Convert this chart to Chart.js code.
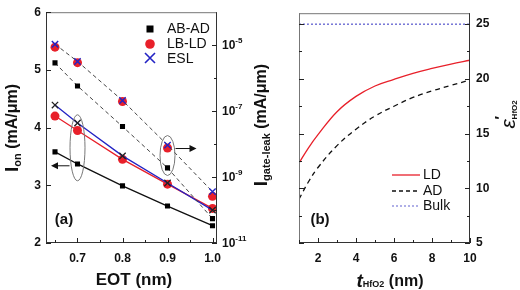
<!DOCTYPE html>
<html lang="en">
<head>
<meta charset="UTF-8">
<title>Ion / gate leakage vs EOT and HfO2 permittivity</title>
<script src="https://cdn.jsdelivr.net/npm/chart.js"></script>
<style>
  body { margin: 0; background: #fff; }
  #wrap { position: relative; width: 520px; height: 290px; overflow: hidden; }
  canvas { position: absolute; top: 0; }
  #chartA { left: 0; }
  #chartB { left: 262px; }
</style>
</head>
<body>
<div id="wrap">
  <canvas id="chartA" width="275" height="290"></canvas>
  <canvas id="chartB" width="258" height="290"></canvas>
</div>
<script>
// ---- panel (a): on-current (left axis) and gate leakage (right, log) vs EOT
const eot = [0.65, 0.7, 0.8, 0.9, 1.0];
const ionABAD = [3.58, 3.37, 2.99, 2.64, 2.30];
const ionLBLD = [4.20, 3.95, 3.45, 3.02, 2.60];
const ionESL  = [4.39, 4.08, 3.51, 3.04, 2.57];
const leakABAD = [2.9e-6, 5.8e-7, 3.4e-8, 1.9e-9, 5.5e-11];
const leakLBLD = [8.7e-6, 2.95e-6, 1.96e-7, 7.6e-9, 2.6e-10];
const leakESL  = [1.07e-5, 3.2e-6, 2.1e-7, 9.3e-9, 3.6e-10];

const eotMajor = [0.7, 0.8, 0.9, 1.0];
const eotMinor = [0.65, 0.75, 0.85, 0.95];
const ionTicks = [2, 3, 4, 5, 6];
const leakMajor = [1e-11, 1e-9, 1e-7, 1e-5];
const leakMinor = [1e-10, 1e-8, 1e-6];

// ---- panel (b): effective permittivity vs HfO2 thickness
const tHfO2 = [1, 1.5, 2, 3, 4, 5, 6, 7, 8, 9, 10];
const epsLD = [12.3, 13.7, 14.9, 17.0, 18.4, 19.35, 19.95, 20.5, 20.95, 21.35, 21.7];
const epsAD = [9.0, 10.6, 11.9, 13.9, 15.4, 16.6, 17.5, 18.3, 18.9, 19.4, 19.9];
const epsBulk = [25, 25, 25, 25, 25, 25, 25, 25, 25, 25, 25];

const tMajor = [2, 4, 6, 8, 10];
const tMinor = [1, 3, 5, 7, 9];
const epsMajor = [5, 10, 15, 20, 25];
const epsMinor = [7.5, 12.5, 17.5, 22.5];

const FF = "'Liberation Sans', Arial, sans-serif";
const RED = '#e8202a';
const BLUE = '#2323c4';

const pts = (xs, ys) => xs.map((x, i) => ({ x, y: ys[i] }));

// draw a row of text pieces (sub/superscripts) centred on x,y, optionally rotated
function drawRich(ctx, parts, x, y, rot) {
  ctx.save();
  ctx.translate(x, y);
  if (rot) ctx.rotate(rot);
  ctx.textBaseline = 'middle';
  ctx.textAlign = 'left';
  let w = 0;
  parts.forEach(p => { ctx.font = p.font; p.w = ctx.measureText(p.t).width; if (!p.stack) w += p.w; });
  let cx = -w / 2, last = 0;
  parts.forEach(p => {
    ctx.font = p.font;
    ctx.fillStyle = '#111';
    if (p.stack) { ctx.fillText(p.t, last, p.dy || 0); return; }
    ctx.fillText(p.t, cx, p.dy || 0);
    last = cx + p.w;
    cx += p.w;
  });
  ctx.restore();
}

function arrow(ctx, x1, y, x2) {
  const d = Math.sign(x2 - x1);
  ctx.beginPath();
  ctx.moveTo(x1, y); ctx.lineTo(x2 - d * 6, y);
  ctx.stroke();
  ctx.beginPath();
  ctx.moveTo(x2, y); ctx.lineTo(x2 - d * 7, y - 3.5); ctx.lineTo(x2 - d * 7, y + 3.5);
  ctx.closePath(); ctx.fill();
}

// frame + inward tick marks
const frameTicks = {
  id: 'frameTicks',
  afterDraw(chart, args, opts) {
    const { ctx, chartArea: a } = chart;
    ctx.save();
    ctx.lineWidth = 1;
    const side = (c, x1, y1, x2, y2) => {
      ctx.strokeStyle = c; ctx.beginPath(); ctx.moveTo(x1, y1); ctx.lineTo(x2, y2); ctx.stroke();
    };
    const f = opts.frame;
    side(f.top, a.left, a.top + 0.5, a.right, a.top + 0.5);
    side(f.left, a.left + 0.5, a.top, a.left + 0.5, a.bottom);
    side(f.right, a.right - 0.5, a.top, a.right - 0.5, a.bottom);
    side(f.bottom, a.left, a.bottom - 0.5, a.right, a.bottom - 0.5);
    ctx.strokeStyle = '#222';
    opts.marks.forEach(m => {
      const s = chart.scales[m.axis];
      m.values.forEach(v => {
        const p = Math.round(s.getPixelForValue(v)) + 0.5;
        ctx.beginPath();
        if (m.side === 'bottom') { ctx.moveTo(p, a.bottom); ctx.lineTo(p, a.bottom - m.len); }
        if (m.side === 'left') { ctx.moveTo(a.left, p); ctx.lineTo(a.left + m.len, p); }
        if (m.side === 'right') { ctx.moveTo(a.right, p); ctx.lineTo(a.right - m.len, p); }
        ctx.stroke();
      });
    });
    ctx.restore();
  }
};

// ---- chart (a) extras: log labels, titles, legend, ellipses
const extrasA = {
  id: 'extrasA',
  afterDraw(chart) {
    const { ctx, chartArea: a, scales } = chart;
    ctx.save();
    ctx.fillStyle = '#111';
    ctx.textBaseline = 'middle';
    leakMajor.forEach(v => {
      const y = scales.y2.getPixelForValue(v);
      ctx.font = 'bold 12px ' + FF;
      ctx.textAlign = 'left';
      ctx.fillText('10', a.right + 5, y + 1);
      const w = ctx.measureText('10').width;
      ctx.font = 'bold 8px ' + FF;
      ctx.fillText(String(Math.round(Math.log10(v))), a.right + 5 + w, y - 4);
    });

    drawRich(ctx, [
      { t: 'I', font: 'bold 19px ' + FF },
      { t: 'on', font: 'bold 11px ' + FF, dy: 5 },
      { t: ' (mA/\u03bcm)', font: 'bold 16px ' + FF }
    ], 13, 128, -Math.PI / 2);
    drawRich(ctx, [
      { t: 'I', font: 'bold 19px ' + FF },
      { t: 'gate-leak', font: 'bold 11px ' + FF, dy: 5 },
      { t: ' (mA/\u03bcm)', font: 'bold 16px ' + FF }
    ], a.right + 45, 125, -Math.PI / 2);
    drawRich(ctx, [{ t: 'EOT (nm)', font: 'bold 17px ' + FF }], 134, 280);
    drawRich(ctx, [{ t: '(a)', font: 'bold 15px ' + FF }], 64, 220);

    // legend
    const lx = 150, lt = 167;
    ctx.fillStyle = '#000';
    ctx.fillRect(lx - 3.5, 29 - 3.5, 7, 7);
    ctx.fillStyle = RED;
    ctx.beginPath(); ctx.arc(lx, 44, 4.8, 0, Math.PI * 2); ctx.fill();
    ctx.strokeStyle = BLUE; ctx.lineWidth = 1.6;
    ctx.beginPath();
    ctx.moveTo(lx - 5, 53); ctx.lineTo(lx + 5, 63);
    ctx.moveTo(lx + 5, 53); ctx.lineTo(lx - 5, 63);
    ctx.stroke();
    ctx.fillStyle = '#111';
    ctx.font = '14px ' + FF;
    ctx.textAlign = 'left';
    ctx.fillText('AB-AD', lt, 29);
    ctx.fillText('LB-LD', lt, 44);
    ctx.fillText('ESL', lt, 59);

    // ellipse around the on-current points, arrow to left axis
    ctx.strokeStyle = '#777'; ctx.lineWidth = 1;
    const ex1 = scales.x.getPixelForValue(0.7), ey1 = scales.y.getPixelForValue(3.65);
    ctx.beginPath(); ctx.ellipse(ex1, ey1, 7.5, 33, 0, 0, Math.PI * 2); ctx.stroke();
    ctx.strokeStyle = '#111'; ctx.fillStyle = '#111';
    arrow(ctx, ex1 - 8, ey1 + 18, a.left + 5);
    // ellipse around the leakage points, arrow to right axis
    ctx.strokeStyle = '#777';
    const ex2 = scales.x.getPixelForValue(0.9), ey2 = scales.y2.getPixelForValue(4.5e-9);
    ctx.beginPath(); ctx.ellipse(ex2, ey2, 7.5, 20, 0, 0, Math.PI * 2); ctx.stroke();
    ctx.strokeStyle = '#111';
    arrow(ctx, ex2 + 8, ey2 - 7, ex2 + 29);
    ctx.restore();
  }
};

const extrasB = {
  id: 'extrasB',
  afterDraw(chart) {
    const { ctx, chartArea: a } = chart;
    ctx.save();
    drawRich(ctx, [
      { t: 't', font: 'italic bold 19px ' + FF },
      { t: 'HfO2', font: 'bold 9px ' + FF, dy: 3 },
      { t: ' (nm)', font: 'bold 16px ' + FF }
    ], 128, 282);
    drawRich(ctx, [
      { t: '\u03b5', font: 'italic 21px ' + FF },
      { t: '\u2032', font: 'bold 15px ' + FF, dy: -8, stack: true },
      { t: 'HfO2', font: 'bold 8px ' + FF, dy: 6, stack: true }
    ], a.right + 39, 124, -Math.PI / 2);
    drawRich(ctx, [{ t: '(b)', font: 'bold 15px ' + FF }], 58, 220);

    // legend
    const x1 = 130, x2 = 158, tx = 161;
    const rows = [
      { y: 175, c: RED, d: [], t: 'LD', w: 1.3 },
      { y: 191, c: '#111', d: [4, 3], t: 'AD', w: 1.3 },
      { y: 206, c: '#6060d0', d: [2, 2], t: 'Bulk', w: 1 }
    ];
    rows.forEach(r => {
      ctx.strokeStyle = r.c; ctx.lineWidth = r.w; ctx.setLineDash(r.d);
      ctx.beginPath(); ctx.moveTo(x1, r.y); ctx.lineTo(x2, r.y); ctx.stroke();
      ctx.setLineDash([]);
      ctx.fillStyle = '#111'; ctx.font = '14px ' + FF;
      ctx.textAlign = 'left'; ctx.textBaseline = 'middle';
      ctx.fillText(r.t, tx, r.y);
    });
    ctx.restore();
  }
};

const tickFont = { family: FF, weight: 'bold', size: 12 };

new Chart(document.getElementById('chartA'), {
  type: 'line',
  data: {
    datasets: [
      { label: 'ESL leak', data: pts(eot, leakESL), yAxisID: 'y2', order: 0,
        borderColor: '#444', borderWidth: 1, borderDash: [4, 3],
        pointStyle: 'crossRot', pointRadius: 4.5, pointBorderColor: BLUE, pointBorderWidth: 1.4 },
      { label: 'LB-LD leak', data: pts(eot, leakLBLD), yAxisID: 'y2', order: 1, showLine: false,
        pointStyle: 'circle', pointRadius: 4.5, pointBackgroundColor: RED, pointBorderColor: RED, pointBorderWidth: 0 },
      { label: 'AB-AD leak', data: pts(eot, leakABAD), yAxisID: 'y2', order: 2,
        borderColor: '#444', borderWidth: 1, borderDash: [4, 3],
        pointStyle: 'rect', pointRadius: 3.6, pointBackgroundColor: '#000', pointBorderColor: '#000', pointBorderWidth: 0 },
      { label: 'ESL', data: pts(eot, ionESL), yAxisID: 'y', order: 3,
        borderColor: BLUE, borderWidth: 1.3,
        pointStyle: 'crossRot', pointRadius: 4.5, pointBorderColor: '#222', pointBorderWidth: 1.3 },
      { label: 'LB-LD', data: pts(eot, ionLBLD), yAxisID: 'y', order: 4,
        borderColor: RED, borderWidth: 1.3,
        pointStyle: 'circle', pointRadius: 4.5, pointBackgroundColor: RED, pointBorderColor: RED, pointBorderWidth: 0 },
      { label: 'AB-AD', data: pts(eot, ionABAD), yAxisID: 'y', order: 5,
        borderColor: '#111', borderWidth: 1.3,
        pointStyle: 'rect', pointRadius: 3.6, pointBackgroundColor: '#000', pointBorderColor: '#000', pointBorderWidth: 0 }
    ]
  },
  options: {
    responsive: false,
    animation: false,
    layout: { padding: { top: 5, left: 0, right: 0, bottom: 0 } },
    plugins: {
      legend: { display: false },
      tooltip: { enabled: false },
      frameTicks: {
        frame: { top: '#777', left: '#333', right: '#333', bottom: '#333' },
        marks: [
          { axis: 'x', side: 'bottom', values: eotMajor, len: 5 },
          { axis: 'x', side: 'bottom', values: eotMinor, len: 3 },
          { axis: 'y', side: 'left', values: ionTicks, len: 5 },
          { axis: 'y2', side: 'right', values: leakMajor, len: 5 },
          { axis: 'y2', side: 'right', values: leakMinor, len: 3 }
        ]
      }
    },
    scales: {
      x: {
        type: 'linear', min: 0.63, max: 1.01,
        grid: { display: false, drawTicks: false }, border: { display: false },
        afterBuildTicks: s => { s.ticks = eotMajor.map(v => ({ value: v })); },
        afterFit: s => { s.height = 47; },
        ticks: { font: tickFont, color: '#111', padding: 8, maxRotation: 0, callback: v => v.toFixed(1) }
      },
      y: {
        position: 'left', min: 2, max: 6,
        grid: { display: false, drawTicks: false }, border: { display: false },
        afterBuildTicks: s => { s.ticks = ionTicks.map(v => ({ value: v })); },
        afterFit: s => { s.width = 46; },
        ticks: { font: tickFont, color: '#111', padding: 5 }
      },
      y2: {
        type: 'logarithmic', position: 'right', min: 1e-11, max: 1e-4,
        grid: { display: false, drawTicks: false }, border: { display: false },
        afterBuildTicks: s => { s.ticks = leakMajor.map(v => ({ value: v })); },
        afterFit: s => { s.width = 58; },
        ticks: { display: false }
      }
    }
  },
  plugins: [frameTicks, extrasA]
});

new Chart(document.getElementById('chartB'), {
  type: 'line',
  data: {
    datasets: [
      { label: 'LD', data: pts(tHfO2, epsLD), borderColor: RED, borderWidth: 1.3,
        pointRadius: 0, tension: 0.4 },
      { label: 'AD', data: pts(tHfO2, epsAD), borderColor: '#111', borderWidth: 1.3, borderDash: [5, 4],
        pointRadius: 0, tension: 0.4 },
      { label: 'Bulk', data: pts(tHfO2, epsBulk), borderColor: '#3030c0', borderWidth: 1, borderDash: [2, 2],
        pointRadius: 0 }
    ]
  },
  options: {
    responsive: false,
    animation: false,
    layout: { padding: { top: 5, left: 37, right: 0, bottom: 0 } },
    plugins: {
      legend: { display: false },
      tooltip: { enabled: false },
      frameTicks: {
        frame: { top: '#777', left: '#777', right: '#333', bottom: '#333' },
        marks: [
          { axis: 'x', side: 'bottom', values: tMajor, len: 5 },
          { axis: 'x', side: 'bottom', values: tMinor, len: 3 },
          { axis: 'y', side: 'right', values: epsMajor, len: 5 },
          { axis: 'y', side: 'right', values: epsMinor, len: 3 },
          { axis: 'y', side: 'left', values: epsMajor, len: 5 },
          { axis: 'y', side: 'left', values: epsMinor, len: 3 }
        ]
      }
    },
    scales: {
      x: {
        type: 'linear', min: 1, max: 10,
        grid: { display: false, drawTicks: false }, border: { display: false },
        afterBuildTicks: s => { s.ticks = tMajor.map(v => ({ value: v })); },
        afterFit: s => { s.height = 47; },
        ticks: { font: tickFont, color: '#111', padding: 8, maxRotation: 0 }
      },
      y: {
        position: 'right', min: 5, max: 26,
        grid: { display: false, drawTicks: false }, border: { display: false },
        afterBuildTicks: s => { s.ticks = epsMajor.map(v => ({ value: v })); },
        afterFit: s => { s.width = 50; },
        ticks: { font: tickFont, color: '#111', padding: 6 }
      }
    }
  },
  plugins: [frameTicks, extrasB]
});
</script>
</body>
</html>
